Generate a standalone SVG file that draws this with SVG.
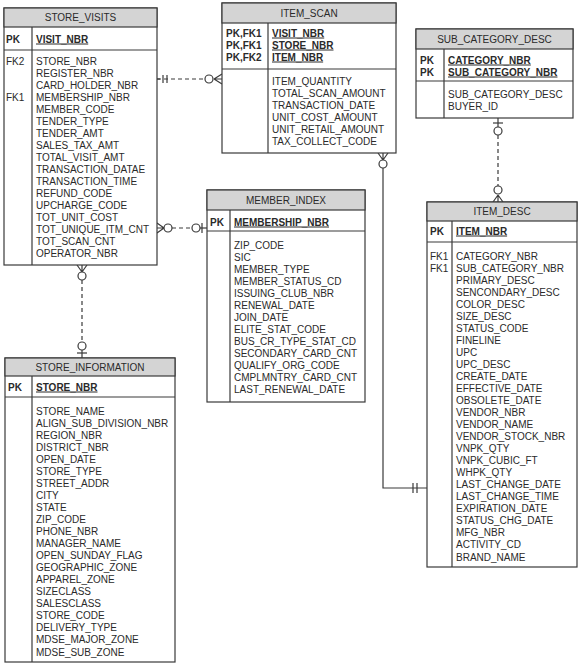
<svg xmlns="http://www.w3.org/2000/svg" width="582" height="668" viewBox="0 0 582 668">
<style>
text{font-family:"Liberation Sans",Arial,sans-serif;font-size:10px;fill:#2a2a2a}
.box{fill:#fff;stroke:#3a3a3a;stroke-width:1.2}
.hdr{fill:#d4d4d4;stroke:#3a3a3a;stroke-width:1.2}
.ln{stroke:#3a3a3a;stroke-width:1.2;fill:none}
.title{text-anchor:middle}
.pk{font-weight:bold;text-decoration:underline}
.k{font-weight:bold}
.c{stroke:#3a3a3a;stroke-width:1.2;fill:none}
.d{stroke-dasharray:4 3}
.o{fill:#fff;stroke:#3a3a3a;stroke-width:1.2}
</style>
<g id="connectors">
  <!-- STORE_VISITS -> ITEM_SCAN -->
  <line class="c d" x1="157" y1="79" x2="205" y2="79"/>
  <line class="c" x1="157" y1="79" x2="160" y2="79"/>
  <line class="c" x1="163" y1="75" x2="163" y2="83"/>
  <line class="c" x1="167" y1="75" x2="167" y2="83"/>
  <path class="c" d="M214,79 L222,79 M214,79 L222,74 M214,79 L222,84"/>
  <circle class="o" cx="209" cy="79" r="4"/>
  <!-- STORE_VISITS -> MEMBER_INDEX -->
  <path class="c" d="M164,228 L157,228 M164,228 L157,223 M164,228 L157,233"/>
  <circle class="o" cx="168" cy="228" r="4"/>
  <line class="c d" x1="172" y1="228" x2="192" y2="228"/>
  <circle class="o" cx="196" cy="228" r="4"/>
  <line class="c" x1="200" y1="228" x2="207" y2="228"/>
  <line class="c" x1="202" y1="223" x2="202" y2="233"/>
  <!-- STORE_VISITS -> STORE_INFORMATION -->
  <path class="c" d="M82,272 L82,265 M82,272 L77,265 M82,272 L87,265"/>
  <circle class="o" cx="82" cy="276" r="4"/>
  <line class="c d" x1="82" y1="280" x2="82" y2="342"/>
  <circle class="o" cx="82" cy="346" r="4"/>
  <line class="c" x1="82" y1="350" x2="82" y2="358"/>
  <line class="c" x1="77" y1="353" x2="87" y2="353"/>
  <!-- ITEM_SCAN -> ITEM_DESC -->
  <path class="c" d="M383,160 L383,153 M383,160 L378,153 M383,160 L388,153"/>
  <circle class="o" cx="383" cy="164" r="4"/>
  <path class="c" d="M383,168 L383,488 L427,488"/>
  <line class="c" x1="413" y1="483" x2="413" y2="493"/>
  <line class="c" x1="417" y1="483" x2="417" y2="493"/>
  <!-- SUB_CATEGORY_DESC -> ITEM_DESC -->
  <line class="c" x1="498" y1="118" x2="498" y2="127"/>
  <line class="c" x1="493" y1="123" x2="503" y2="123"/>
  <circle class="o" cx="498" cy="131" r="4"/>
  <line class="c d" x1="498" y1="135" x2="498" y2="186"/>
  <circle class="o" cx="498" cy="190" r="4"/>
  <path class="c" d="M498,195 L498,202 M498,195 L493,202 M498,195 L503,202"/>
</g>
<g id="store_visits">
  <rect class="box" x="4" y="8" width="153" height="257"/>
  <rect class="hdr" x="4" y="8" width="153" height="19"/>
  <text class="title" x="80.5" y="21">STORE_VISITS</text>
  <line class="ln" x1="4" y1="50" x2="157" y2="50"/>
  <line class="ln" x1="32" y1="27" x2="32" y2="265"/>
  <text class="k" x="6" y="42.5">PK</text>
  <text class="pk" x="36" y="42.5">VISIT_NBR</text>
  <text x="6" y="64.5">FK2</text>
  <text x="6" y="100.7">FK1</text>
  <text x="36" y="64.5"><tspan x="36" dy="0">STORE_NBR</tspan><tspan x="36" dy="12.06">REGISTER_NBR</tspan><tspan x="36" dy="12.06">CARD_HOLDER_NBR</tspan><tspan x="36" dy="12.06">MEMBERSHIP_NBR</tspan><tspan x="36" dy="12.06">MEMBER_CODE</tspan><tspan x="36" dy="12.06">TENDER_TYPE</tspan><tspan x="36" dy="12.06">TENDER_AMT</tspan><tspan x="36" dy="12.06">SALES_TAX_AMT</tspan><tspan x="36" dy="12.06">TOTAL_VISIT_AMT</tspan><tspan x="36" dy="12.06">TRANSACTION_DATAE</tspan><tspan x="36" dy="12.06">TRANSACTION_TIME</tspan><tspan x="36" dy="12.06">REFUND_CODE</tspan><tspan x="36" dy="12.06">UPCHARGE_CODE</tspan><tspan x="36" dy="12.06">TOT_UNIT_COST</tspan><tspan x="36" dy="12.06">TOT_UNIQUE_ITM_CNT</tspan><tspan x="36" dy="12.06">TOT_SCAN_CNT</tspan><tspan x="36" dy="12.06">OPERATOR_NBR</tspan></text>
</g>
<g id="item_scan">
  <rect class="box" x="222" y="3" width="174" height="150"/>
  <rect class="hdr" x="222" y="3" width="174" height="20"/>
  <text class="title" x="309" y="16.5">ITEM_SCAN</text>
  <line class="ln" x1="222" y1="69" x2="396" y2="69"/>
  <line class="ln" x1="268" y1="23" x2="268" y2="153"/>
  <text class="k" x="226" y="36.5"><tspan x="226" dy="0">PK,FK1</tspan><tspan x="226" dy="12">PK,FK1</tspan><tspan x="226" dy="12">PK,FK2</tspan></text>
  <text class="pk" x="272" y="36.5"><tspan x="272" dy="0">VISIT_NBR</tspan><tspan x="272" dy="12">STORE_NBR</tspan><tspan x="272" dy="12">ITEM_NBR</tspan></text>
  <text x="272" y="84.5"><tspan x="272" dy="0">ITEM_QUANTITY</tspan><tspan x="272" dy="12.1">TOTAL_SCAN_AMOUNT</tspan><tspan x="272" dy="12.1">TRANSACTION_DATE</tspan><tspan x="272" dy="12.1">UNIT_COST_AMOUNT</tspan><tspan x="272" dy="12.1">UNIT_RETAIL_AMOUNT</tspan><tspan x="272" dy="12.1">TAX_COLLECT_CODE</tspan></text>
</g>
<g id="sub_category_desc">
  <rect class="box" x="416" y="29" width="157" height="89"/>
  <rect class="hdr" x="416" y="29" width="157" height="20"/>
  <text class="title" x="494.5" y="43">SUB_CATEGORY_DESC</text>
  <line class="ln" x1="416" y1="81" x2="573" y2="81"/>
  <line class="ln" x1="444" y1="49" x2="444" y2="118"/>
  <text class="k" x="420" y="63.5"><tspan x="420" dy="0">PK</tspan><tspan x="420" dy="12">PK</tspan></text>
  <text class="pk" x="448" y="63.5"><tspan x="448" dy="0">CATEGORY_NBR</tspan><tspan x="448" dy="12">SUB_CATEGORY_NBR</tspan></text>
  <text x="448" y="97.5"><tspan x="448" dy="0">SUB_CATEGORY_DESC</tspan><tspan x="448" dy="12">BUYER_ID</tspan></text>
</g>
<g id="member_index">
  <rect class="box" x="207" y="190" width="158" height="212"/>
  <rect class="hdr" x="207" y="190" width="158" height="20"/>
  <text class="title" x="286" y="203.5">MEMBER_INDEX</text>
  <line class="ln" x1="207" y1="231" x2="365" y2="231"/>
  <line class="ln" x1="230" y1="210" x2="230" y2="402"/>
  <text class="k" x="210" y="225.5">PK</text>
  <text class="pk" x="234" y="225.5">MEMBERSHIP_NBR</text>
  <text x="234" y="248.5"><tspan x="234" dy="0">ZIP_CODE</tspan><tspan x="234" dy="12">SIC</tspan><tspan x="234" dy="12">MEMBER_TYPE</tspan><tspan x="234" dy="12">MEMBER_STATUS_CD</tspan><tspan x="234" dy="12">ISSUING_CLUB_NBR</tspan><tspan x="234" dy="12">RENEWAL_DATE</tspan><tspan x="234" dy="12">JOIN_DATE</tspan><tspan x="234" dy="12">ELITE_STAT_CODE</tspan><tspan x="234" dy="12">BUS_CR_TYPE_STAT_CD</tspan><tspan x="234" dy="12">SECONDARY_CARD_CNT</tspan><tspan x="234" dy="12">QUALIFY_ORG_CODE</tspan><tspan x="234" dy="12">CMPLMNTRY_CARD_CNT</tspan><tspan x="234" dy="12">LAST_RENEWAL_DATE</tspan></text>
</g>
<g id="item_desc">
  <rect class="box" x="427" y="202" width="150" height="365"/>
  <rect class="hdr" x="427" y="202" width="150" height="19"/>
  <text class="title" x="502" y="215">ITEM_DESC</text>
  <line class="ln" x1="427" y1="242" x2="577" y2="242"/>
  <line class="ln" x1="452" y1="221" x2="452" y2="567"/>
  <text class="k" x="430" y="234.5">PK</text>
  <text class="pk" x="456" y="234.5">ITEM_NBR</text>
  <text x="430" y="259.5"><tspan x="430" dy="0">FK1</tspan><tspan x="430" dy="12.04">FK1</tspan></text>
  <text x="456" y="259.5"><tspan x="456" dy="0">CATEGORY_NBR</tspan><tspan x="456" dy="12.04">SUB_CATEGORY_NBR</tspan><tspan x="456" dy="12.04">PRIMARY_DESC</tspan><tspan x="456" dy="12.04">SENCONDARY_DESC</tspan><tspan x="456" dy="12.04">COLOR_DESC</tspan><tspan x="456" dy="12.04">SIZE_DESC</tspan><tspan x="456" dy="12.04">STATUS_CODE</tspan><tspan x="456" dy="12.04">FINELINE</tspan><tspan x="456" dy="12.04">UPC</tspan><tspan x="456" dy="12.04">UPC_DESC</tspan><tspan x="456" dy="12.04">CREATE_DATE</tspan><tspan x="456" dy="12.04">EFFECTIVE_DATE</tspan><tspan x="456" dy="12.04">OBSOLETE_DATE</tspan><tspan x="456" dy="12.04">VENDOR_NBR</tspan><tspan x="456" dy="12.04">VENDOR_NAME</tspan><tspan x="456" dy="12.04">VENDOR_STOCK_NBR</tspan><tspan x="456" dy="12.04">VNPK_QTY</tspan><tspan x="456" dy="12.04">VNPK_CUBIC_FT</tspan><tspan x="456" dy="12.04">WHPK_QTY</tspan><tspan x="456" dy="12.04">LAST_CHANGE_DATE</tspan><tspan x="456" dy="12.04">LAST_CHANGE_TIME</tspan><tspan x="456" dy="12.04">EXPIRATION_DATE</tspan><tspan x="456" dy="12.04">STATUS_CHG_DATE</tspan><tspan x="456" dy="12.04">MFG_NBR</tspan><tspan x="456" dy="12.04">ACTIVITY_CD</tspan><tspan x="456" dy="12.04">BRAND_NAME</tspan></text>
</g>
<g id="store_information">
  <rect class="box" x="5" y="358" width="170" height="304"/>
  <rect class="hdr" x="5" y="358" width="170" height="18"/>
  <text class="title" x="90" y="370.5">STORE_INFORMATION</text>
  <line class="ln" x1="5" y1="397" x2="175" y2="397"/>
  <line class="ln" x1="32" y1="376" x2="32" y2="662"/>
  <text class="k" x="8" y="390.5">PK</text>
  <text class="pk" x="36" y="390.5">STORE_NBR</text>
  <text x="36" y="414.5"><tspan x="36" dy="0">STORE_NAME</tspan><tspan x="36" dy="12.05">ALIGN_SUB_DIVISION_NBR</tspan><tspan x="36" dy="12.05">REGION_NBR</tspan><tspan x="36" dy="12.05">DISTRICT_NBR</tspan><tspan x="36" dy="12.05">OPEN_DATE</tspan><tspan x="36" dy="12.05">STORE_TYPE</tspan><tspan x="36" dy="12.05">STREET_ADDR</tspan><tspan x="36" dy="12.05">CITY</tspan><tspan x="36" dy="12.05">STATE</tspan><tspan x="36" dy="12.05">ZIP_CODE</tspan><tspan x="36" dy="12.05">PHONE_NBR</tspan><tspan x="36" dy="12.05">MANAGER_NAME</tspan><tspan x="36" dy="12.05">OPEN_SUNDAY_FLAG</tspan><tspan x="36" dy="12.05">GEOGRAPHIC_ZONE</tspan><tspan x="36" dy="12.05">APPAREL_ZONE</tspan><tspan x="36" dy="12.05">SIZECLASS</tspan><tspan x="36" dy="12.05">SALESCLASS</tspan><tspan x="36" dy="12.05">STORE_CODE</tspan><tspan x="36" dy="12.05">DELIVERY_TYPE</tspan><tspan x="36" dy="12.05">MDSE_MAJOR_ZONE</tspan><tspan x="36" dy="12.05">MDSE_SUB_ZONE</tspan></text>
</g>
</svg>
